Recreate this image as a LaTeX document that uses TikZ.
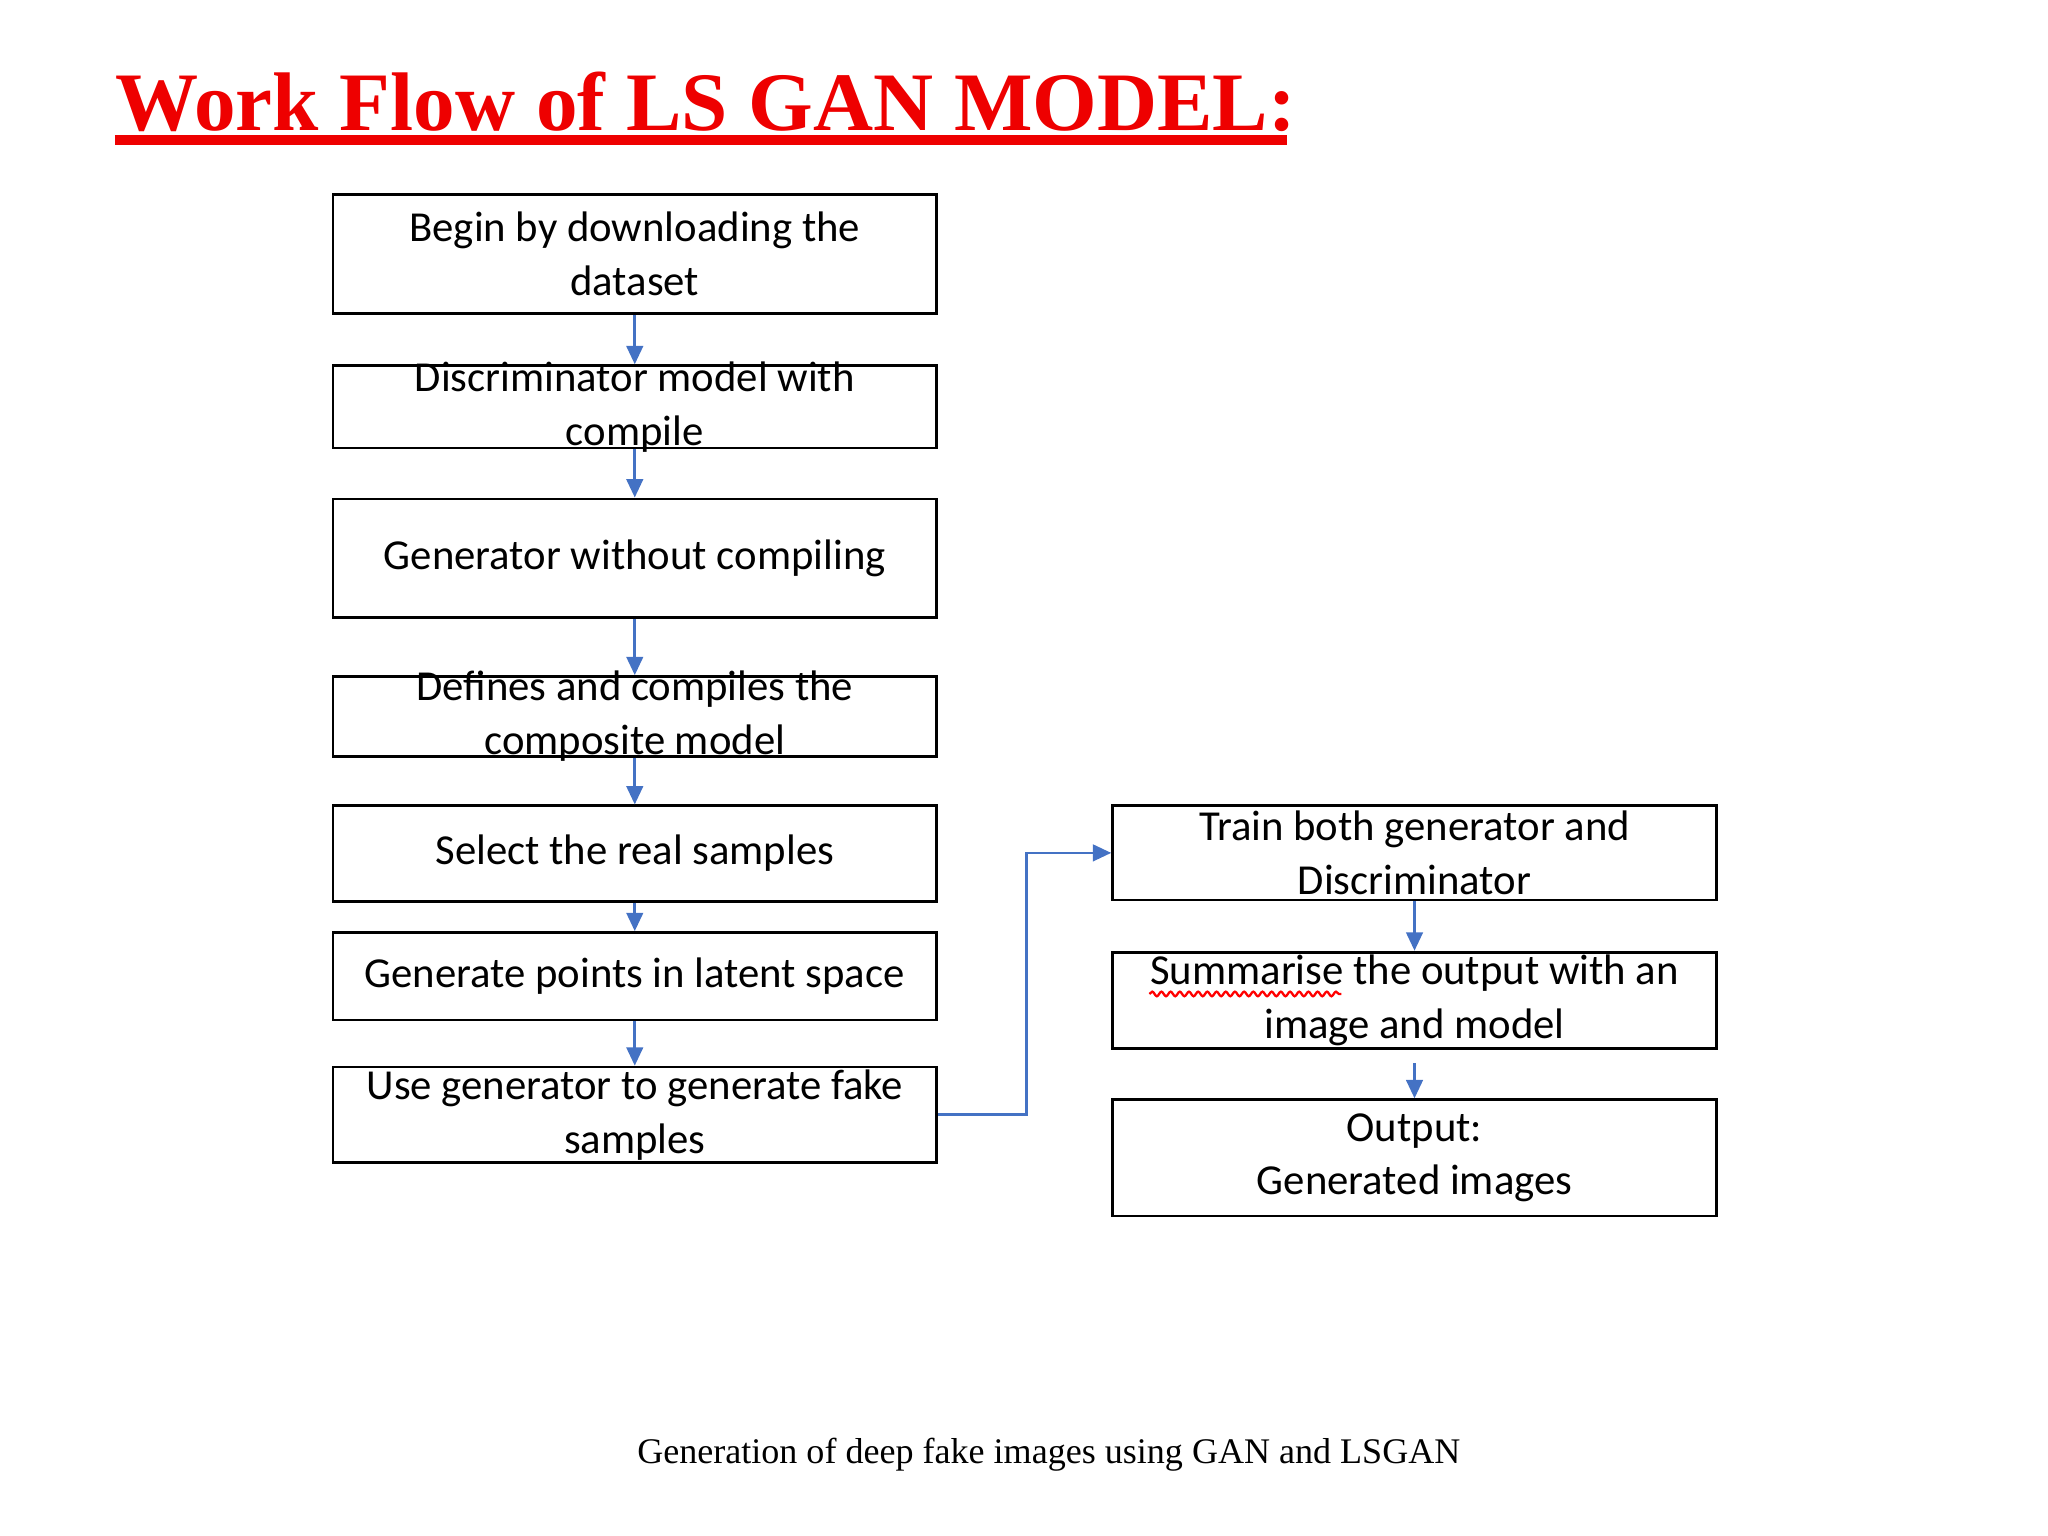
\documentclass[tikz,border=0pt]{standalone}
\usepackage{fontspec}
\setmainfont{Carlito}
\newfontfamily\timesf{Liberation Serif}
\usetikzlibrary{arrows.meta,decorations.pathmorphing}
\definecolor{arrblue}{RGB}{68,114,196}
\definecolor{titlered}{RGB}{238,0,0}
\tikzset{
  box/.style={draw=black,line width=0.6pt,minimum width=4.62cm,inner sep=0pt},
  txt/.style={align=center,font=\fontsize{9.3}{11.7}\selectfont,inner sep=0pt},
  arr/.style={draw=arrblue,line width=0.6pt,-{Triangle[length=4pt,width=3.6pt]}}
}
\begin{document}
\begin{tikzpicture}[x=0.01cm,y=-0.01cm]
\useasboundingbox (0,0) rectangle (1568,1176);
\node[anchor=base west,text=titlered,font=\timesf\bfseries\fontsize{18.1}{22}\selectfont,inner sep=0pt] (title) at (88,100) {Work Flow of LS GAN MODEL:};
\draw[titlered,line width=2.2pt] (88,107) -- (985,107);
\node[box,minimum height=0.91cm] (b1) at (486,194.5) {};
\node[txt] at (b1) {Begin by downloading the\\dataset};
\node[box,minimum height=0.63cm] (b2) at (486,311.5) {};
\node[box,minimum height=0.91cm] (b3) at (486,427.5) {};
\node[box,minimum height=0.61cm] (b4) at (486,548.5) {};
\node[box,minimum height=0.73cm] (b5) at (486,653.5) {};
\node[box,minimum height=0.67cm] (b6) at (486,747.5) {};
\node[box,minimum height=0.73cm] (b7) at (486,853.5) {};
\node[box,minimum height=0.72cm] (ra) at (1083,653) {};
\node[box,minimum height=0.74cm] (rb) at (1083,766) {};
\node[box,minimum height=0.89cm] (rc) at (1083,886.5) {};
\draw[arr] (b1) -- (b2);
\draw[arr] (b2) -- (b3);
\draw[arr] (b3) -- (b4);
\draw[arr] (b4) -- (b5);
\draw[arr] (b5) -- (b6);
\draw[arr] (b6) -- (b7);
\draw[arr] (b7.east) -- ++(68,0) |- (ra.west);
\draw[arr] (ra) -- (rb);
\draw[arr] (rb.south)++(0,10) -- (rc.north);
\node[txt] at (b2) {Discriminator model with\\compile};
\node[txt] at (b3) {Generator without compiling};
\node[txt] at (b4) {Defines and compiles the\\composite model};
\node[txt] at (b5) {Select the real samples};
\node[txt] at (b6) {Generate points in latent space};
\node[txt] at (b7) {Use generator to generate fake\\samples};
\node[txt] at (ra) {Train both generator and\\Discriminator};
\node[txt] at (rb) {Summarise the output with an\\image and model};
\node[txt] at (rc) {Output:\\Generated images};
\draw[red,line width=0.5pt,decorate,decoration={snake,amplitude=0.5pt,segment length=2pt}] (880,761) -- (1027,761);
\node[font=\timesf\fontsize{7.85}{9}\selectfont,inner sep=0pt] (foot) at (803,1114) {Generation of deep fake images using GAN and LSGAN};
\end{tikzpicture}
\end{document}
